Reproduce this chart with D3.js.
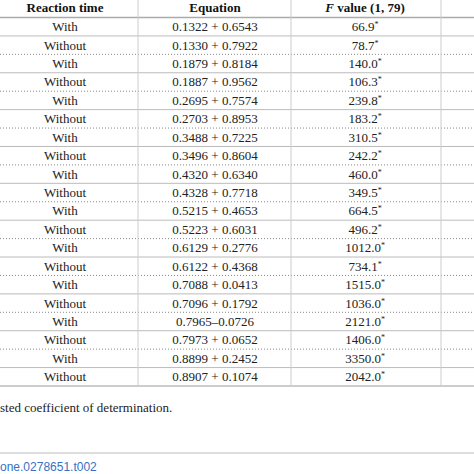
<!DOCTYPE html><html><head><meta charset="utf-8"><script src="https://cdn.jsdelivr.net/npm/d3@7"></script>
<style>body{margin:0;background:#fff}</style></head><body><script>
const headers=["Reaction time","Equation","F value (1, 79)"];
const reaction=["With","Without","With","Without","With","Without","With","Without","With","Without","With","Without","With","Without","With","Without","With","Without","With","Without"];
const equations=["0.1322 + 0.6543","0.1330 + 0.7922","0.1879 + 0.8184","0.1887 + 0.9562","0.2695 + 0.7574","0.2703 + 0.8953","0.3488 + 0.7225","0.3496 + 0.8604","0.4320 + 0.6340","0.4328 + 0.7718","0.5215 + 0.4653","0.5223 + 0.6031","0.6129 + 0.2776","0.6122 + 0.4368","0.7088 + 0.0413","0.7096 + 0.1792","0.7965\u20130.0726","0.7973 + 0.0652","0.8899 + 0.2452","0.8907 + 0.1074"];
const fvalues=["66.9","78.7","140.0","106.3","239.8","183.2","310.5","242.2","460.0","349.5","664.5","496.2","1012.0","734.1","1515.0","1036.0","2121.0","1406.0","3350.0","2042.0"];
const W=474,H=474;
const svg=d3.select("body").append("svg").attr("width",W).attr("height",H).style("font-family","'Liberation Serif','DejaVu Serif',serif").style("font-size","13px");
const y=d3.scaleLinear().domain([0,20]).range([17.5,386]);
const xc=[65,215,365];
const vlines=[138,291,441];
headers.forEach((h,i)=>{const t=svg.append("text").attr("x",xc[i]).attr("y",12).attr("text-anchor","middle").attr("font-weight","bold").attr("fill","#111");
 if(i===2){t.append("tspan").attr("font-style","italic").text("F");t.append("tspan").text(" value (1, 79)");} else t.text(h);});
svg.append("line").attr("x1",0).attr("x2",W).attr("y1",y(0)).attr("y2",y(0)).attr("stroke","#aaa").attr("stroke-width",1.5);
d3.range(1,21).forEach(k=>{svg.append("line").attr("x1",0).attr("x2",W).attr("y1",y(k)).attr("y2",y(k))
 .attr("stroke",k%2===0&&k<20?"#888":"#bbb").attr("stroke-width",k===20?1.5:1).attr("stroke-dasharray",k%2===0&&k<20?"1,2":null);});
vlines.forEach(x=>svg.append("line").attr("x1",x).attr("x2",x).attr("y1",0).attr("y2",y(20)).attr("stroke","#ccc"));
const rows=svg.selectAll("g.r").data(reaction).join("g").attr("transform",(d,i)=>`translate(0,${y(i+0.5)+4.5})`);
rows.append("text").attr("x",xc[0]).attr("text-anchor","middle").text(d=>d).attr("fill","#222");
rows.append("text").attr("x",xc[1]).attr("text-anchor","middle").text((d,i)=>equations[i]).attr("fill","#222");
rows.append("text").attr("x",xc[2]).attr("text-anchor","middle").attr("fill","#222").each(function(d,i){const t=d3.select(this);t.append("tspan").text(fvalues[i]);t.append("tspan").attr("font-size","8px").attr("dy",-4).text("*");});
svg.append("text").attr("x",0).attr("y",412).attr("fill","#222").text("sted coefficient of determination.");
svg.append("line").attr("x1",0).attr("x2",W).attr("y1",453).attr("y2",453).attr("stroke","#bbb");
svg.append("text").attr("x",0).attr("y",471).attr("fill","#3a6fc4").style("font-family","'Liberation Sans',sans-serif").style("font-size","12px").text("one.0278651.t002");
</script></body></html>
